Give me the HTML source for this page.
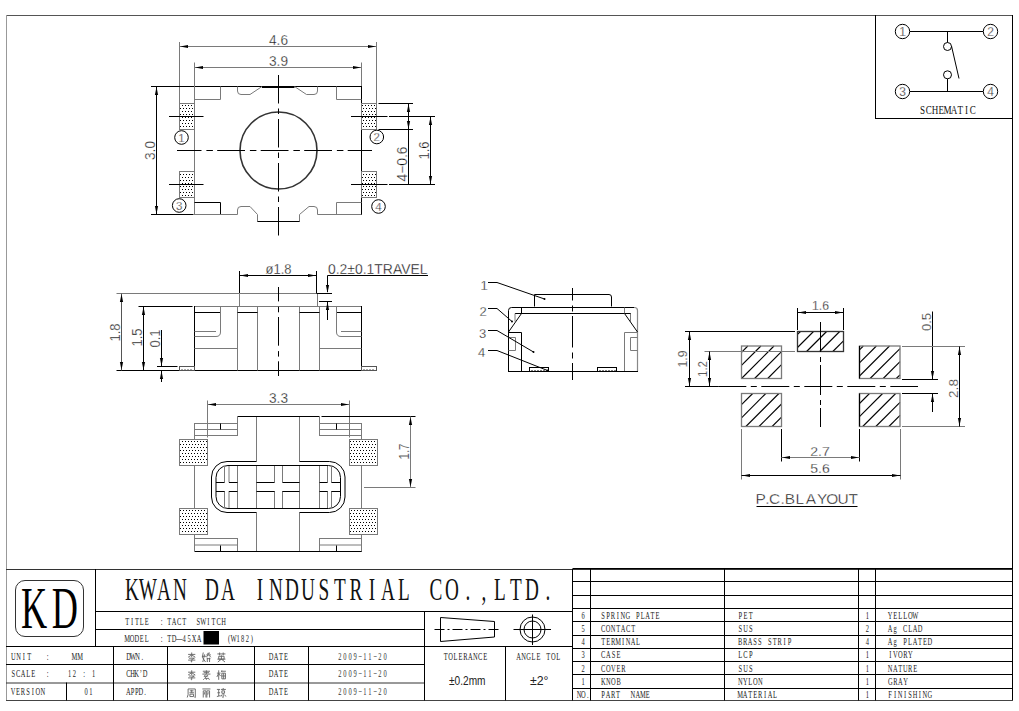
<!DOCTYPE html>
<html><head><meta charset="utf-8"><style>
html,body{margin:0;padding:0;background:#fff;overflow:hidden;}
svg{display:block;}

</style></head><body>
<svg width="1019" height="711" viewBox="0 0 1019 711">
<rect x="0" y="0" width="1019" height="711" fill="#fff"/>
<line x1="6" y1="15.5" x2="1012.5" y2="15.5" stroke="#555" stroke-width="1" />
<line x1="6.5" y1="15" x2="6.5" y2="700.5" stroke="#999" stroke-width="1" />
<line x1="1012.5" y1="15" x2="1012.5" y2="700.5" stroke="#000" stroke-width="1" />
<line x1="6" y1="700.5" x2="1013" y2="700.5" stroke="#444" stroke-width="1" />
<line x1="875.5" y1="15" x2="875.5" y2="118.5" stroke="#000" stroke-width="1" />
<line x1="875" y1="118.5" x2="1012.5" y2="118.5" stroke="#000" stroke-width="1" />
<circle cx="902.5" cy="31.5" r="7.2" stroke="#000" stroke-width="1" fill="none"/>
<text x="902.5" y="36.0" font-family="Liberation Sans" font-size="12" text-anchor="middle" fill="#111" stroke="#fff" stroke-width="0.3">1</text>
<circle cx="990.5" cy="31.5" r="7.2" stroke="#000" stroke-width="1" fill="none"/>
<text x="990.5" y="36.0" font-family="Liberation Sans" font-size="12" text-anchor="middle" fill="#111" stroke="#fff" stroke-width="0.3">2</text>
<circle cx="902.5" cy="91.5" r="7.2" stroke="#000" stroke-width="1" fill="none"/>
<text x="902.5" y="96.0" font-family="Liberation Sans" font-size="12" text-anchor="middle" fill="#111" stroke="#fff" stroke-width="0.3">3</text>
<circle cx="990.5" cy="91.5" r="7.2" stroke="#000" stroke-width="1" fill="none"/>
<text x="990.5" y="96.0" font-family="Liberation Sans" font-size="12" text-anchor="middle" fill="#111" stroke="#fff" stroke-width="0.3">4</text>
<line x1="910" y1="31.5" x2="983" y2="31.5" stroke="#000" stroke-width="1" />
<line x1="910" y1="91.5" x2="983" y2="91.5" stroke="#000" stroke-width="1" />
<line x1="947.5" y1="31.5" x2="947.5" y2="42.5" stroke="#000" stroke-width="1" />
<circle cx="947.5" cy="46.5" r="4" stroke="#000" stroke-width="1" fill="none"/>
<circle cx="947.5" cy="74.8" r="4" stroke="#000" stroke-width="1" fill="none"/>
<line x1="947.5" y1="78.8" x2="947.5" y2="91.5" stroke="#000" stroke-width="1" />
<line x1="951.5" y1="46" x2="959" y2="78.5" stroke="#000" stroke-width="1" />
<text transform="scale(0.72 1)" x="1281.31 1290.03 1298.75 1307.47 1316.19 1324.92 1333.64 1342.36 1351.08" y="114" font-family="Liberation Serif" font-size="12.6" text-anchor="middle" fill="#111">SCHEMATIC</text>
<line x1="179.5" y1="42" x2="179.5" y2="103" stroke="#7a7a7a" stroke-width="1" />
<line x1="376.5" y1="42" x2="376.5" y2="103" stroke="#7a7a7a" stroke-width="1" />
<line x1="194.5" y1="62.5" x2="194.5" y2="86" stroke="#7a7a7a" stroke-width="1" />
<line x1="361.5" y1="62.5" x2="361.5" y2="86" stroke="#7a7a7a" stroke-width="1" />
<line x1="179.5" y1="46.5" x2="376.5" y2="46.5" stroke="#7a7a7a" stroke-width="1" />
<polygon points="180,46.5 188,44.9 188,48.1" fill="#000" stroke="none"/>
<polygon points="376,46.5 368,44.9 368,48.1" fill="#000" stroke="none"/>
<line x1="194.5" y1="67.5" x2="361.5" y2="67.5" stroke="#7a7a7a" stroke-width="1" />
<polygon points="195,67.5 203,65.9 203,69.1" fill="#000" stroke="none"/>
<polygon points="361,67.5 353,65.9 353,69.1" fill="#000" stroke="none"/>
<text x="278.5" y="45" font-family="Liberation Sans" font-size="14" text-anchor="middle" fill="#111" textLength="19" lengthAdjust="spacingAndGlyphs" stroke="#fff" stroke-width="0.3">4.6</text>
<text x="278.5" y="65.5" font-family="Liberation Sans" font-size="14" text-anchor="middle" fill="#111" textLength="19" lengthAdjust="spacingAndGlyphs" stroke="#fff" stroke-width="0.3">3.9</text>
<line x1="151" y1="86.5" x2="361.5" y2="86.5" stroke="#000" stroke-width="1" />
<line x1="262" y1="87.5" x2="294.5" y2="87.5" stroke="#000" stroke-width="1" />
<line x1="194.5" y1="86" x2="194.5" y2="215" stroke="#7a7a7a" stroke-width="1" />
<line x1="361.5" y1="86" x2="361.5" y2="215" stroke="#000" stroke-width="1" />
<path d="M237.5,86.5 L237.5,91 Q237.5,94.5 241,94.5 L250,94.5 L262,86.5" stroke="#7a7a7a" stroke-width="1" fill="none" />
<path d="M294.5,86.5 L306.5,94.5 L314,94.5 Q317.5,94.5 317.5,91 L317.5,86.5" stroke="#7a7a7a" stroke-width="1" fill="none" />
<path d="M194.5,99.5 L220.5,99.5 L220.5,86.5" stroke="#7a7a7a" stroke-width="1" fill="none" />
<path d="M361.5,99.5 L336.5,99.5 L336.5,86.5" stroke="#7a7a7a" stroke-width="1" fill="none" />
<path d="M194.5,202.5 L220.5,202.5 L220.5,214.5" stroke="#000" stroke-width="1" fill="none" />
<path d="M361.5,202.5 L336.5,202.5 L336.5,214.5" stroke="#7a7a7a" stroke-width="1" fill="none" />
<path d="M151,214.5 L237.5,214.5 L237.5,210 Q237.5,206.5 241,206.5 L250,206.5 L257.5,214.5 L257.5,221.5 L299.5,221.5 L299.5,214.5 L309,206.5 L314,206.5 Q317.5,206.5 317.5,210 L317.5,214.5 L361.5,214.5" stroke="#7a7a7a" stroke-width="1" fill="none" />
<line x1="257.5" y1="221.5" x2="299.5" y2="221.5" stroke="#000" stroke-width="1" />
<defs><pattern id="dots" x="0" y="0" width="3" height="6" patternUnits="userSpaceOnUse"><rect x="2" y="3" width="1" height="1" fill="#000"/><rect x="0" y="0" width="1" height="1" fill="#000"/></pattern><pattern id="hatch" x="0" y="0" width="13.3" height="13.3" patternUnits="userSpaceOnUse"><path d="M-1,14.3 L14.3,-1 M-1,1 L1,-1 M12.3,14.3 L14.3,12.3" stroke="#000" stroke-width="1"/></pattern></defs>
<rect x="179.5" y="103.5" width="15" height="26" stroke="#7a7a7a" stroke-width="1" fill="url(#dots)" />
<rect x="179.5" y="171.5" width="15" height="26" stroke="#7a7a7a" stroke-width="1" fill="url(#dots)" />
<rect x="361.5" y="103.5" width="15" height="26" stroke="#7a7a7a" stroke-width="1" fill="url(#dots)" />
<rect x="361.5" y="171.5" width="15" height="26" stroke="#7a7a7a" stroke-width="1" fill="url(#dots)" />
<line x1="169" y1="116.5" x2="203.5" y2="116.5" stroke="#000" stroke-width="1" />
<line x1="169" y1="184.5" x2="203.5" y2="184.5" stroke="#000" stroke-width="1" />
<line x1="351" y1="116.5" x2="387.5" y2="116.5" stroke="#000" stroke-width="1" />
<line x1="389" y1="116.5" x2="435" y2="116.5" stroke="#000" stroke-width="1" />
<line x1="351" y1="184.5" x2="387.5" y2="184.5" stroke="#000" stroke-width="1" />
<line x1="389" y1="184.5" x2="435" y2="184.5" stroke="#000" stroke-width="1" />
<circle cx="181.5" cy="137.5" r="6.8" stroke="#000" stroke-width="1" fill="none"/>
<text x="181.5" y="141.8" font-family="Liberation Sans" font-size="11.5" text-anchor="middle" fill="#111" stroke="#fff" stroke-width="0.3">1</text>
<circle cx="376.8" cy="137" r="6.8" stroke="#000" stroke-width="1" fill="none"/>
<text x="376.8" y="141.3" font-family="Liberation Sans" font-size="11.5" text-anchor="middle" fill="#111" stroke="#fff" stroke-width="0.3">2</text>
<circle cx="179.2" cy="205.5" r="6.8" stroke="#000" stroke-width="1" fill="none"/>
<text x="179.2" y="209.8" font-family="Liberation Sans" font-size="11.5" text-anchor="middle" fill="#111" stroke="#fff" stroke-width="0.3">3</text>
<circle cx="378.5" cy="206.5" r="6.8" stroke="#000" stroke-width="1" fill="none"/>
<text x="378.5" y="210.8" font-family="Liberation Sans" font-size="11.5" text-anchor="middle" fill="#111" stroke="#fff" stroke-width="0.3">4</text>
<circle cx="278.5" cy="150.5" r="38.5" stroke="#333" stroke-width="1.6" fill="none"/>
<line x1="177" y1="150.5" x2="372" y2="150.5" stroke="#000" stroke-width="1" stroke-dasharray="27.8 4.9 6.5 4.3" stroke-dashoffset="3.3"/>
<line x1="278.5" y1="75" x2="278.5" y2="236" stroke="#000" stroke-width="1" stroke-dasharray="28.5 5 5.5 5"/>
<line x1="151" y1="214.5" x2="193" y2="214.5" stroke="#000" stroke-width="1" />
<line x1="156.5" y1="86.5" x2="156.5" y2="214.5" stroke="#000" stroke-width="1" />
<polygon points="156.5,87 154.9,95 158.1,95" fill="#000" stroke="none"/>
<polygon points="156.5,214 154.9,206 158.1,206" fill="#000" stroke="none"/>
<text x="154.5" y="150.5" font-family="Liberation Sans" font-size="14" text-anchor="middle" fill="#111" textLength="19" lengthAdjust="spacingAndGlyphs" transform="rotate(-90 154.5 150.5)" stroke="#fff" stroke-width="0.3">3.0</text>
<line x1="378.5" y1="103.5" x2="413" y2="103.5" stroke="#000" stroke-width="1" />
<line x1="378.5" y1="129.5" x2="413" y2="129.5" stroke="#000" stroke-width="1" />
<line x1="408.5" y1="103.5" x2="408.5" y2="184.5" stroke="#000" stroke-width="1" />
<polygon points="408.5,104 406.9,112 410.1,112" fill="#000" stroke="none"/>
<polygon points="408.5,129 406.9,121 410.1,121" fill="#000" stroke="none"/>
<text x="407" y="164" font-family="Liberation Sans" font-size="14" text-anchor="middle" fill="#111" textLength="35" lengthAdjust="spacingAndGlyphs" transform="rotate(-90 407 164)" stroke="#fff" stroke-width="0.3">4−0.6</text>
<line x1="430.5" y1="116.5" x2="430.5" y2="184.5" stroke="#000" stroke-width="1" />
<polygon points="430.5,117 428.9,125 432.1,125" fill="#000" stroke="none"/>
<polygon points="430.5,184 428.9,176 432.1,176" fill="#000" stroke="none"/>
<text x="429" y="150.5" font-family="Liberation Sans" font-size="14" text-anchor="middle" fill="#111" textLength="18" lengthAdjust="spacingAndGlyphs" transform="rotate(-90 429 150.5)" stroke="#fff" stroke-width="0.3">1.6</text>
<line x1="116.5" y1="293.5" x2="239.5" y2="293.5" stroke="#7a7a7a" stroke-width="1" />
<line x1="116.5" y1="370.5" x2="193" y2="370.5" stroke="#000" stroke-width="1" />
<line x1="121.5" y1="293.5" x2="121.5" y2="370.5" stroke="#555" stroke-width="1" />
<polygon points="121.5,294 119.9,302 123.1,302" fill="#000" stroke="none"/>
<polygon points="121.5,370 119.9,362 123.1,362" fill="#000" stroke="none"/>
<text x="119.5" y="332.5" font-family="Liberation Sans" font-size="14" text-anchor="middle" fill="#111" textLength="18" lengthAdjust="spacingAndGlyphs" transform="rotate(-90 119.5 332.5)" stroke="#fff" stroke-width="0.3">1.8</text>
<line x1="138.5" y1="306.5" x2="192.5" y2="306.5" stroke="#000" stroke-width="1" />
<line x1="143.5" y1="306.5" x2="143.5" y2="370.5" stroke="#000" stroke-width="1" />
<polygon points="143.5,307 141.9,315 145.1,315" fill="#000" stroke="none"/>
<polygon points="143.5,370 141.9,362 145.1,362" fill="#000" stroke="none"/>
<text x="142" y="337.5" font-family="Liberation Sans" font-size="14" text-anchor="middle" fill="#111" textLength="18" lengthAdjust="spacingAndGlyphs" transform="rotate(-90 142 337.5)" stroke="#fff" stroke-width="0.3">1.5</text>
<line x1="161.5" y1="330" x2="161.5" y2="366" stroke="#000" stroke-width="1" />
<polygon points="161.5,366 159.9,358 163.1,358" fill="#000" stroke="none"/>
<line x1="157" y1="366.5" x2="177.5" y2="366.5" stroke="#000" stroke-width="1" />
<line x1="161.5" y1="371" x2="161.5" y2="382" stroke="#000" stroke-width="1" />
<polygon points="161.5,371 159.9,379 163.1,379" fill="#000" stroke="none"/>
<text x="160" y="338.5" font-family="Liberation Sans" font-size="14" text-anchor="middle" fill="#111" textLength="18" lengthAdjust="spacingAndGlyphs" transform="rotate(-90 160 338.5)" stroke="#fff" stroke-width="0.3">0.1</text>
<line x1="194.5" y1="306.5" x2="361.5" y2="306.5" stroke="#7a7a7a" stroke-width="1" />
<line x1="194.5" y1="306" x2="194.5" y2="371" stroke="#000" stroke-width="1" />
<line x1="361.5" y1="306" x2="361.5" y2="371" stroke="#000" stroke-width="1" />
<line x1="194.5" y1="370.5" x2="361.5" y2="370.5" stroke="#000" stroke-width="1" />
<rect x="179.5" y="366.5" width="15.0" height="4.0" stroke="#555" stroke-width="1" fill="none" />
<path d="M182.0,370.5 V369.0 M185.0,370.5 V369.0 M188.0,370.5 V369.0 M191.0,370.5 V369.0 " stroke="#555" stroke-width="1" fill="none" />
<rect x="361.5" y="366.5" width="15.0" height="4.0" stroke="#555" stroke-width="1" fill="none" />
<path d="M364.0,370.5 V369.0 M367.0,370.5 V369.0 M370.0,370.5 V369.0 M373.0,370.5 V369.0 " stroke="#555" stroke-width="1" fill="none" />
<line x1="239.5" y1="293.5" x2="317.5" y2="293.5" stroke="#7a7a7a" stroke-width="1" />
<line x1="239.5" y1="293.5" x2="239.5" y2="306.5" stroke="#7a7a7a" stroke-width="1" />
<line x1="317.5" y1="293.5" x2="317.5" y2="306.5" stroke="#7a7a7a" stroke-width="1" />
<line x1="239.5" y1="271" x2="239.5" y2="293" stroke="#000" stroke-width="1" />
<line x1="316.5" y1="271" x2="316.5" y2="293" stroke="#000" stroke-width="1" />
<line x1="239.5" y1="275.5" x2="316.5" y2="275.5" stroke="#000" stroke-width="1" />
<polygon points="240,275.5 248,273.9 248,277.1" fill="#000" stroke="none"/>
<polygon points="316,275.5 308,273.9 308,277.1" fill="#000" stroke="none"/>
<text x="278.5" y="273.5" font-family="Liberation Sans" font-size="14" text-anchor="middle" fill="#111" textLength="26" lengthAdjust="spacingAndGlyphs" stroke="#fff" stroke-width="0.3">ø1.8</text>
<line x1="237.5" y1="306.5" x2="237.5" y2="370.5" stroke="#7a7a7a" stroke-width="1" />
<line x1="257.5" y1="306.5" x2="257.5" y2="370.5" stroke="#7a7a7a" stroke-width="1" />
<line x1="299.5" y1="306.5" x2="299.5" y2="370.5" stroke="#7a7a7a" stroke-width="1" />
<line x1="319.5" y1="306.5" x2="319.5" y2="370.5" stroke="#7a7a7a" stroke-width="1" />
<line x1="194.5" y1="312.5" x2="220.5" y2="312.5" stroke="#000" stroke-width="1" />
<path d="M220.5,306.5 L220.5,332 Q220.5,336.5 216,336.5 L194.5,336.5" stroke="#7a7a7a" stroke-width="1" fill="none" />
<line x1="194.5" y1="331.5" x2="216" y2="331.5" stroke="#7a7a7a" stroke-width="1" />
<line x1="194.5" y1="348.5" x2="237.5" y2="348.5" stroke="#7a7a7a" stroke-width="1" />
<line x1="237.5" y1="312.5" x2="257.5" y2="312.5" stroke="#000" stroke-width="1" />
<line x1="299.5" y1="312.5" x2="319.5" y2="312.5" stroke="#000" stroke-width="1" />
<line x1="336.5" y1="312.5" x2="361.5" y2="312.5" stroke="#000" stroke-width="1" />
<path d="M336.5,306.5 L336.5,332 Q336.5,336.5 341,336.5 L361.5,336.5" stroke="#7a7a7a" stroke-width="1" fill="none" />
<line x1="341" y1="331.5" x2="361.5" y2="331.5" stroke="#7a7a7a" stroke-width="1" />
<line x1="319.5" y1="348.5" x2="361.5" y2="348.5" stroke="#7a7a7a" stroke-width="1" />
<line x1="278.5" y1="287" x2="278.5" y2="376" stroke="#000" stroke-width="1" stroke-dasharray="28.7 5.4 5.5 4.7" stroke-dashoffset="14.3"/>
<line x1="327.5" y1="275.5" x2="428" y2="275.5" stroke="#000" stroke-width="1" />
<line x1="327.5" y1="275.5" x2="327.5" y2="292" stroke="#000" stroke-width="1" />
<polygon points="327.5,293 325.9,285 329.1,285" fill="#000" stroke="none"/>
<line x1="316.5" y1="293.5" x2="332" y2="293.5" stroke="#000" stroke-width="1" />
<line x1="319" y1="301.5" x2="332" y2="301.5" stroke="#000" stroke-width="1" />
<line x1="327.5" y1="302" x2="327.5" y2="320" stroke="#000" stroke-width="1" />
<polygon points="327.5,302 325.9,310 329.1,310" fill="#000" stroke="none"/>
<text x="328" y="273.5" font-family="Liberation Sans" font-size="14" text-anchor="start" fill="#111" textLength="99.5" lengthAdjust="spacingAndGlyphs" stroke="#fff" stroke-width="0.3">0.2±0.1TRAVEL</text>
<line x1="207.5" y1="400.5" x2="207.5" y2="437.5" stroke="#7a7a7a" stroke-width="1" />
<line x1="349.5" y1="400.5" x2="349.5" y2="437.5" stroke="#7a7a7a" stroke-width="1" />
<line x1="207.5" y1="404.5" x2="349.5" y2="404.5" stroke="#7a7a7a" stroke-width="1" />
<polygon points="208,404.5 216,402.9 216,406.1" fill="#000" stroke="none"/>
<polygon points="349,404.5 341,402.9 341,406.1" fill="#000" stroke="none"/>
<text x="278.5" y="403" font-family="Liberation Sans" font-size="14" text-anchor="middle" fill="#111" textLength="19" lengthAdjust="spacingAndGlyphs" stroke="#fff" stroke-width="0.3">3.3</text>
<line x1="237.5" y1="416.5" x2="319.5" y2="416.5" stroke="#000" stroke-width="1" />
<line x1="321.5" y1="416.5" x2="415.5" y2="416.5" stroke="#000" stroke-width="1" />
<line x1="237.5" y1="416.5" x2="237.5" y2="436" stroke="#7a7a7a" stroke-width="1" />
<line x1="319.5" y1="416.5" x2="319.5" y2="436" stroke="#7a7a7a" stroke-width="1" />
<path d="M195,423.5 L237.5,423.5 M195,429.5 L237.5,429.5 M195,435.5 L237.5,435.5 M220.5,423 L220.5,429.5" stroke="#7a7a7a" stroke-width="1" fill="none" />
<line x1="220.5" y1="423.5" x2="220.5" y2="429.5" stroke="#000" stroke-width="1" />
<path d="M319.5,423.5 L361.5,423.5 M319.5,429.5 L361.5,429.5 M319.5,435.5 L361.5,435.5" stroke="#7a7a7a" stroke-width="1" fill="none" />
<line x1="336.5" y1="423.5" x2="336.5" y2="429.5" stroke="#000" stroke-width="1" />
<path d="M195,538.5 L237.5,538.5 M195,545 L237.5,545 M237.5,538 L237.5,551" stroke="#7a7a7a" stroke-width="1" fill="none" />
<line x1="220.5" y1="545.5" x2="220.5" y2="551" stroke="#000" stroke-width="1" />
<path d="M319.5,538.5 L361.5,538.5 M319.5,545 L361.5,545 M319.5,538 L319.5,551" stroke="#7a7a7a" stroke-width="1" fill="none" />
<line x1="336.5" y1="545.5" x2="336.5" y2="551" stroke="#000" stroke-width="1" />
<line x1="194.5" y1="551.5" x2="362" y2="551.5" stroke="#000" stroke-width="1" />
<line x1="194.5" y1="423" x2="194.5" y2="440" stroke="#7a7a7a" stroke-width="1" />
<line x1="194.5" y1="465" x2="194.5" y2="508" stroke="#7a7a7a" stroke-width="1" />
<line x1="194.5" y1="534" x2="194.5" y2="551.5" stroke="#7a7a7a" stroke-width="1" />
<line x1="361.5" y1="423" x2="361.5" y2="440" stroke="#7a7a7a" stroke-width="1" />
<line x1="361.5" y1="465" x2="361.5" y2="508" stroke="#7a7a7a" stroke-width="1" />
<line x1="361.5" y1="534" x2="361.5" y2="551.5" stroke="#7a7a7a" stroke-width="1" />
<rect x="179.5" y="439.5" width="28" height="26" stroke="#7a7a7a" stroke-width="1" fill="url(#dots)" />
<rect x="179.5" y="508.5" width="28" height="26" stroke="#7a7a7a" stroke-width="1" fill="url(#dots)" />
<rect x="349.5" y="439.5" width="28" height="26" stroke="#7a7a7a" stroke-width="1" fill="url(#dots)" />
<rect x="349.5" y="508.5" width="28" height="26" stroke="#7a7a7a" stroke-width="1" fill="url(#dots)" />
<line x1="256.5" y1="417" x2="256.5" y2="461.5" stroke="#7a7a7a" stroke-width="1" />
<line x1="299.5" y1="417" x2="299.5" y2="461.5" stroke="#7a7a7a" stroke-width="1" />
<line x1="256.5" y1="512.5" x2="256.5" y2="551" stroke="#7a7a7a" stroke-width="1" />
<line x1="299.5" y1="512.5" x2="299.5" y2="551" stroke="#7a7a7a" stroke-width="1" />
<path d="M256.5,461.5 L227,461.5 A15.5,15.5 0 0 0 211.5,477 L211.5,497 A15.5,15.5 0 0 0 227,512.5 L256.5,512.5" stroke="#000" stroke-width="1" fill="none" />
<path d="M299.5,461.5 L329.5,461.5 A15.5,15.5 0 0 1 345,477 L345,497 A15.5,15.5 0 0 1 329.5,512.5 L299.5,512.5" stroke="#000" stroke-width="1" fill="none" />
<rect x="216" y="465.5" width="124.5" height="43" stroke="#000" stroke-width="1" fill="none" rx="12" ry="12"/>
<line x1="237.5" y1="466" x2="237.5" y2="508" stroke="#7a7a7a" stroke-width="1" />
<line x1="256.5" y1="466" x2="256.5" y2="508" stroke="#7a7a7a" stroke-width="1" />
<line x1="299.5" y1="466" x2="299.5" y2="508" stroke="#7a7a7a" stroke-width="1" />
<line x1="319.5" y1="466" x2="319.5" y2="508" stroke="#7a7a7a" stroke-width="1" />
<line x1="224.5" y1="466" x2="224.5" y2="482.5" stroke="#7a7a7a" stroke-width="1" />
<line x1="224.5" y1="491" x2="224.5" y2="508" stroke="#7a7a7a" stroke-width="1" />
<line x1="229" y1="466" x2="229" y2="482.5" stroke="#7a7a7a" stroke-width="1" />
<line x1="229" y1="491" x2="229" y2="508" stroke="#7a7a7a" stroke-width="1" />
<line x1="274.5" y1="466" x2="274.5" y2="482.5" stroke="#7a7a7a" stroke-width="1" />
<line x1="274.5" y1="491" x2="274.5" y2="508" stroke="#7a7a7a" stroke-width="1" />
<line x1="282.5" y1="466" x2="282.5" y2="482.5" stroke="#7a7a7a" stroke-width="1" />
<line x1="282.5" y1="491" x2="282.5" y2="508" stroke="#7a7a7a" stroke-width="1" />
<line x1="327.5" y1="466" x2="327.5" y2="482.5" stroke="#7a7a7a" stroke-width="1" />
<line x1="327.5" y1="491" x2="327.5" y2="508" stroke="#7a7a7a" stroke-width="1" />
<line x1="331.5" y1="466" x2="331.5" y2="482.5" stroke="#7a7a7a" stroke-width="1" />
<line x1="331.5" y1="491" x2="331.5" y2="508" stroke="#7a7a7a" stroke-width="1" />
<line x1="216" y1="482.5" x2="224.5" y2="482.5" stroke="#000" stroke-width="1" />
<line x1="216" y1="491.5" x2="224.5" y2="491.5" stroke="#000" stroke-width="1" />
<line x1="229" y1="482.5" x2="237.5" y2="482.5" stroke="#000" stroke-width="1" />
<line x1="229" y1="491.5" x2="237.5" y2="491.5" stroke="#000" stroke-width="1" />
<line x1="256.5" y1="482.5" x2="274.5" y2="482.5" stroke="#000" stroke-width="1" />
<line x1="256.5" y1="491.5" x2="274.5" y2="491.5" stroke="#000" stroke-width="1" />
<line x1="282.5" y1="482.5" x2="299.5" y2="482.5" stroke="#000" stroke-width="1" />
<line x1="282.5" y1="491.5" x2="299.5" y2="491.5" stroke="#000" stroke-width="1" />
<line x1="319.5" y1="482.5" x2="327.5" y2="482.5" stroke="#000" stroke-width="1" />
<line x1="319.5" y1="491.5" x2="327.5" y2="491.5" stroke="#000" stroke-width="1" />
<line x1="331.5" y1="482.5" x2="340.5" y2="482.5" stroke="#000" stroke-width="1" />
<line x1="331.5" y1="491.5" x2="340.5" y2="491.5" stroke="#000" stroke-width="1" />
<line x1="364" y1="487.5" x2="415.5" y2="487.5" stroke="#7a7a7a" stroke-width="1" />
<line x1="410.5" y1="416.5" x2="410.5" y2="487.5" stroke="#7a7a7a" stroke-width="1" />
<polygon points="410.5,417 408.9,425 412.1,425" fill="#000" stroke="none"/>
<polygon points="410.5,487 408.9,479 412.1,479" fill="#000" stroke="none"/>
<text x="409" y="451.5" font-family="Liberation Sans" font-size="14" text-anchor="middle" fill="#111" textLength="16" lengthAdjust="spacingAndGlyphs" transform="rotate(-90 409 451.5)" stroke="#fff" stroke-width="0.3">1.7</text>
<path d="M534.5,306.5 L534.5,294.5 L609,294.5 Q611.5,294.5 611.5,297 L611.5,306.5" stroke="#000" stroke-width="1" fill="none" />
<path d="M508.5,371.5 L508.5,310.5 Q508.5,307.5 511.5,307.5 L634.5,307.5" stroke="#000" stroke-width="1" fill="none" />
<path d="M634.5,307.5 Q637.5,307.5 637.5,310.5 L637.5,371.5" stroke="#888" stroke-width="1.2" fill="none" />
<line x1="515" y1="313.5" x2="631" y2="313.5" stroke="#000" stroke-width="1" />
<line x1="521.5" y1="307.5" x2="521.5" y2="313.5" stroke="#000" stroke-width="1" />
<line x1="624.5" y1="307.5" x2="624.5" y2="313.5" stroke="#7a7a7a" stroke-width="1" />
<line x1="515" y1="313.5" x2="515" y2="321.5" stroke="#7a7a7a" stroke-width="1" />
<line x1="630.5" y1="313.5" x2="630.5" y2="321.5" stroke="#7a7a7a" stroke-width="1" />
<line x1="521.5" y1="313.5" x2="508.5" y2="332" stroke="#000" stroke-width="1" />
<line x1="624.5" y1="313.5" x2="637.5" y2="332" stroke="#000" stroke-width="1" />
<path d="M508.5,332.5 L521.5,332.5 L521.5,371.5" stroke="#000" stroke-width="1" fill="none" />
<path d="M637.5,332.5 L624.5,332.5 L624.5,371.5" stroke="#7a7a7a" stroke-width="1" fill="none" />
<path d="M508.5,337.5 L515.5,337.5 L515.5,350.5 L508.5,350.5" stroke="#7a7a7a" stroke-width="1" fill="none" />
<path d="M637.5,337.5 L630.5,337.5 L630.5,350.5 L637.5,350.5" stroke="#7a7a7a" stroke-width="1" fill="none" />
<line x1="508" y1="371.5" x2="638" y2="371.5" stroke="#000" stroke-width="1" />
<rect x="529.5" y="367.5" width="19.0" height="4.0" stroke="#000" stroke-width="1" fill="none" />
<path d="M532.0,371.5 V370.0 M535.0,371.5 V370.0 M538.0,371.5 V370.0 M541.0,371.5 V370.0 M544.0,371.5 V370.0 M547.0,371.5 V370.0 " stroke="#000" stroke-width="1" fill="none" />
<rect x="597.5" y="367.5" width="19.0" height="4.0" stroke="#000" stroke-width="1" fill="none" />
<path d="M600.0,371.5 V370.0 M603.0,371.5 V370.0 M606.0,371.5 V370.0 M609.0,371.5 V370.0 M612.0,371.5 V370.0 M615.0,371.5 V370.0 " stroke="#000" stroke-width="1" fill="none" />
<line x1="572.5" y1="288" x2="572.5" y2="380" stroke="#000" stroke-width="1" stroke-dasharray="31.5 5 6 4.5" stroke-dashoffset="19"/>
<text x="484" y="290" font-family="Liberation Sans" font-size="13" text-anchor="middle" fill="#111" stroke="#fff" stroke-width="0.3">1</text>
<path d="M488,282.5 L497,282.5 L544.5,299" stroke="#000" stroke-width="1" fill="none" />
<circle cx="544.5" cy="299" r="1" stroke="#000" stroke-width="0" fill="#000"/>
<text x="483" y="315.5" font-family="Liberation Sans" font-size="13" text-anchor="middle" fill="#111" stroke="#fff" stroke-width="0.3">2</text>
<path d="M488,308.5 L497,308.5 L512,321.5" stroke="#000" stroke-width="1" fill="none" />
<circle cx="512" cy="321.5" r="1" stroke="#000" stroke-width="0" fill="#000"/>
<text x="482.5" y="338" font-family="Liberation Sans" font-size="13" text-anchor="middle" fill="#111" stroke="#fff" stroke-width="0.3">3</text>
<path d="M488,330.5 L497,330.5 L533.5,352" stroke="#000" stroke-width="1" fill="none" />
<circle cx="533.5" cy="352" r="1" stroke="#000" stroke-width="0" fill="#000"/>
<text x="481.5" y="357" font-family="Liberation Sans" font-size="13" text-anchor="middle" fill="#111" stroke="#fff" stroke-width="0.3">4</text>
<path d="M488,350.5 L497,350.5 L547.5,370.5" stroke="#000" stroke-width="1" fill="none" />
<circle cx="547.5" cy="370.5" r="1" stroke="#000" stroke-width="0" fill="#000"/>
<line x1="741.5" y1="352.3" x2="747.8" y2="346.0" stroke="#000" stroke-width="1.1" />
<line x1="741.5" y1="365.4" x2="760.9" y2="346.0" stroke="#000" stroke-width="1.1" />
<line x1="741.5" y1="378.5" x2="774.0" y2="346.0" stroke="#000" stroke-width="1.1" />
<line x1="754.6" y1="378.5" x2="781.5" y2="351.6" stroke="#000" stroke-width="1.1" />
<line x1="767.7" y1="378.5" x2="781.5" y2="364.7" stroke="#000" stroke-width="1.1" />
<rect x="741.5" y="346" width="40.0" height="32.5" stroke="#7a7a7a" stroke-width="1.3" fill="none" />
<line x1="859.5" y1="349.8" x2="863.3" y2="346.0" stroke="#000" stroke-width="1.1" />
<line x1="859.5" y1="362.9" x2="876.4" y2="346.0" stroke="#000" stroke-width="1.1" />
<line x1="859.5" y1="376.0" x2="889.5" y2="346.0" stroke="#000" stroke-width="1.1" />
<line x1="870.1" y1="378.5" x2="900" y2="348.6" stroke="#000" stroke-width="1.1" />
<line x1="883.2" y1="378.5" x2="900" y2="361.7" stroke="#000" stroke-width="1.1" />
<line x1="896.3" y1="378.5" x2="900" y2="374.8" stroke="#000" stroke-width="1.1" />
<rect x="859.5" y="346" width="40.5" height="32.5" stroke="#7a7a7a" stroke-width="1.3" fill="none" />
<line x1="741.5" y1="404.7" x2="752.7" y2="393.5" stroke="#000" stroke-width="1.1" />
<line x1="741.5" y1="417.8" x2="765.8" y2="393.5" stroke="#000" stroke-width="1.1" />
<line x1="745.9" y1="426.5" x2="778.9" y2="393.5" stroke="#000" stroke-width="1.1" />
<line x1="759.0" y1="426.5" x2="781.5" y2="404.0" stroke="#000" stroke-width="1.1" />
<line x1="772.1" y1="426.5" x2="781.5" y2="417.1" stroke="#000" stroke-width="1.1" />
<rect x="741.5" y="393.5" width="40.0" height="33.0" stroke="#7a7a7a" stroke-width="1.3" fill="none" />
<line x1="859.5" y1="403.5" x2="869.5" y2="393.5" stroke="#000" stroke-width="1.1" />
<line x1="859.5" y1="416.6" x2="882.6" y2="393.5" stroke="#000" stroke-width="1.1" />
<line x1="862.7" y1="426.5" x2="895.7" y2="393.5" stroke="#000" stroke-width="1.1" />
<line x1="875.8" y1="426.5" x2="900" y2="402.3" stroke="#000" stroke-width="1.1" />
<line x1="888.9" y1="426.5" x2="900" y2="415.4" stroke="#000" stroke-width="1.1" />
<rect x="859.5" y="393.5" width="40.5" height="33.0" stroke="#7a7a7a" stroke-width="1.3" fill="none" />
<line x1="859.5" y1="346" x2="859.5" y2="378.5" stroke="#000" stroke-width="1.2" />
<line x1="859.5" y1="393.5" x2="859.5" y2="426.5" stroke="#000" stroke-width="1.2" />
<line x1="797.5" y1="334.4" x2="800.4" y2="331.5" stroke="#000" stroke-width="1.1" />
<line x1="797.5" y1="347.5" x2="813.5" y2="331.5" stroke="#000" stroke-width="1.1" />
<line x1="806.6" y1="351.5" x2="826.6" y2="331.5" stroke="#000" stroke-width="1.1" />
<line x1="819.7" y1="351.5" x2="839.7" y2="331.5" stroke="#000" stroke-width="1.1" />
<line x1="832.8" y1="351.5" x2="843.5" y2="340.8" stroke="#000" stroke-width="1.1" />
<rect x="797.5" y="331.5" width="46.0" height="20.0" stroke="#333" stroke-width="1.3" fill="none" />
<line x1="685" y1="386.5" x2="918" y2="386.5" stroke="#000" stroke-width="1" stroke-dasharray="28 4.5 6 4.5" stroke-dashoffset="9.7"/>
<line x1="685" y1="386.5" x2="718.5" y2="386.5" stroke="#000" stroke-width="1" />
<line x1="820.5" y1="322" x2="820.5" y2="427" stroke="#000" stroke-width="1" stroke-dasharray="30 5 5 3"/>
<line x1="797.5" y1="308" x2="797.5" y2="330" stroke="#000" stroke-width="1" />
<line x1="843.5" y1="308" x2="843.5" y2="330" stroke="#000" stroke-width="1" />
<line x1="797.5" y1="312.5" x2="843.5" y2="312.5" stroke="#000" stroke-width="1" />
<polygon points="798,312.5 806,310.9 806,314.1" fill="#000" stroke="none"/>
<polygon points="843,312.5 835,310.9 835,314.1" fill="#000" stroke="none"/>
<text x="820.5" y="310" font-family="Liberation Sans" font-size="13" text-anchor="middle" fill="#111" textLength="17" lengthAdjust="spacingAndGlyphs" stroke="#fff" stroke-width="0.3">1.6</text>
<line x1="685" y1="331.5" x2="795" y2="331.5" stroke="#000" stroke-width="1" />
<line x1="689.5" y1="331.5" x2="689.5" y2="386.5" stroke="#000" stroke-width="1" />
<polygon points="689.5,332 687.9,340 691.1,340" fill="#000" stroke="none"/>
<polygon points="689.5,386 687.9,378 691.1,378" fill="#000" stroke="none"/>
<text x="687" y="359" font-family="Liberation Sans" font-size="13" text-anchor="middle" fill="#111" textLength="17" lengthAdjust="spacingAndGlyphs" transform="rotate(-90 687 359)" stroke="#fff" stroke-width="0.3">1.9</text>
<line x1="704.5" y1="351.5" x2="795" y2="351.5" stroke="#7a7a7a" stroke-width="1" />
<line x1="709.5" y1="351.5" x2="709.5" y2="386.5" stroke="#000" stroke-width="1" />
<polygon points="709.5,352 707.9,360 711.1,360" fill="#000" stroke="none"/>
<polygon points="709.5,386 707.9,378 711.1,378" fill="#000" stroke="none"/>
<text x="706.5" y="369" font-family="Liberation Sans" font-size="13" text-anchor="middle" fill="#111" textLength="16" lengthAdjust="spacingAndGlyphs" transform="rotate(-90 706.5 369)" stroke="#fff" stroke-width="0.3">1.2</text>
<line x1="902" y1="379.5" x2="938" y2="379.5" stroke="#000" stroke-width="1" />
<line x1="902" y1="393.5" x2="938" y2="393.5" stroke="#000" stroke-width="1" />
<line x1="932.5" y1="311.5" x2="932.5" y2="379" stroke="#000" stroke-width="1" />
<polygon points="932.5,379 930.9,371 934.1,371" fill="#000" stroke="none"/>
<line x1="932.5" y1="394" x2="932.5" y2="412" stroke="#000" stroke-width="1" />
<polygon points="932.5,394 930.9,402 934.1,402" fill="#000" stroke="none"/>
<text x="930.5" y="322" font-family="Liberation Sans" font-size="13" text-anchor="middle" fill="#111" textLength="18" lengthAdjust="spacingAndGlyphs" transform="rotate(-90 930.5 322)" stroke="#fff" stroke-width="0.3">0.5</text>
<line x1="902" y1="346.5" x2="965" y2="346.5" stroke="#7a7a7a" stroke-width="1" />
<line x1="902" y1="426.5" x2="965" y2="426.5" stroke="#7a7a7a" stroke-width="1" />
<line x1="959.5" y1="346.5" x2="959.5" y2="426.5" stroke="#000" stroke-width="1" />
<polygon points="959.5,347 957.9,355 961.1,355" fill="#000" stroke="none"/>
<polygon points="959.5,426 957.9,418 961.1,418" fill="#000" stroke="none"/>
<text x="957.5" y="388.5" font-family="Liberation Sans" font-size="13" text-anchor="middle" fill="#111" textLength="19" lengthAdjust="spacingAndGlyphs" transform="rotate(-90 957.5 388.5)" stroke="#fff" stroke-width="0.3">2.8</text>
<line x1="741.5" y1="429" x2="741.5" y2="479.5" stroke="#7a7a7a" stroke-width="1" />
<line x1="900.5" y1="429" x2="900.5" y2="479.5" stroke="#7a7a7a" stroke-width="1" />
<line x1="781.5" y1="429" x2="781.5" y2="461.5" stroke="#000" stroke-width="1" />
<line x1="859.5" y1="429" x2="859.5" y2="461.5" stroke="#000" stroke-width="1" />
<line x1="781.5" y1="457.5" x2="859.5" y2="457.5" stroke="#7a7a7a" stroke-width="1" />
<polygon points="782,457.5 790,455.9 790,459.1" fill="#000" stroke="none"/>
<polygon points="859,457.5 851,455.9 851,459.1" fill="#000" stroke="none"/>
<line x1="741.5" y1="475.5" x2="900.5" y2="475.5" stroke="#000" stroke-width="1" />
<polygon points="742,475.5 750,473.9 750,477.1" fill="#000" stroke="none"/>
<polygon points="900,475.5 892,473.9 892,477.1" fill="#000" stroke="none"/>
<text x="820" y="455.5" font-family="Liberation Sans" font-size="13" text-anchor="middle" fill="#111" textLength="19.5" lengthAdjust="spacingAndGlyphs" stroke="#fff" stroke-width="0.3">2.7</text>
<text x="820" y="473" font-family="Liberation Sans" font-size="13" text-anchor="middle" fill="#111" textLength="19.5" lengthAdjust="spacingAndGlyphs" stroke="#fff" stroke-width="0.3">5.6</text>
<text x="760.7 767.5 774.5 782.7 790 799.7 811 822.2 832.4 843.1 853.3" y="504.4" font-family="Liberation Sans" font-size="15.5" text-anchor="middle" fill="#111" stroke="#fff" stroke-width="0.4">P.C.BLAYOUT</text>
<line x1="756.5" y1="506.5" x2="857.5" y2="506.5" stroke="#000" stroke-width="1" />
<line x1="6" y1="569.5" x2="1012.5" y2="569.5" stroke="#333" stroke-width="1" />
<line x1="95.5" y1="569" x2="95.5" y2="647" stroke="#000" stroke-width="1" />
<rect x="15.5" y="580.5" width="68" height="56" stroke="#333" stroke-width="1" fill="none" rx="9.5" ry="9.5"/>
<text transform="scale(0.62 1)" x="55.16 104.52" y="628.3" font-family="Liberation Serif" font-size="58.5" text-anchor="middle" fill="#000">KD</text>
<text transform="scale(0.62 1)" x="212.74 238.55 264.35 290.16 315.97 341.77 367.58 393.39 419.19 445.00 470.81 496.61 522.42 548.23 574.03 599.84 625.65 651.45 677.26 703.06 728.87 754.68 780.48 806.29 832.10 857.90 883.71" y="600" font-family="Liberation Serif" font-size="31" text-anchor="middle" fill="#111">KWAN&#160;DA&#160;INDUSTRIAL&#160;CO.,LTD.</text>
<line x1="95" y1="611.5" x2="572.5" y2="611.5" stroke="#000" stroke-width="1" />
<line x1="95" y1="629.5" x2="424.5" y2="629.5" stroke="#000" stroke-width="1" />
<line x1="6" y1="646.5" x2="572.5" y2="646.5" stroke="#000" stroke-width="1" />
<line x1="6" y1="664.5" x2="424.5" y2="664.5" stroke="#000" stroke-width="1" />
<line x1="6" y1="683" x2="424.5" y2="683" stroke="#333" stroke-width="1" />
<line x1="113.5" y1="646.5" x2="113.5" y2="700.5" stroke="#000" stroke-width="1" />
<line x1="167.5" y1="646.5" x2="167.5" y2="700.5" stroke="#000" stroke-width="1" />
<line x1="254.5" y1="646.5" x2="254.5" y2="700.5" stroke="#000" stroke-width="1" />
<line x1="308.5" y1="646.5" x2="308.5" y2="700.5" stroke="#000" stroke-width="1" />
<line x1="66.5" y1="682.5" x2="66.5" y2="700.5" stroke="#000" stroke-width="1" />
<line x1="424.5" y1="611.5" x2="424.5" y2="700.5" stroke="#000" stroke-width="1" />
<line x1="505.5" y1="646.5" x2="505.5" y2="700.5" stroke="#000" stroke-width="1" />
<line x1="572.5" y1="569" x2="572.5" y2="700.5" stroke="#000" stroke-width="1" />
<text transform="scale(0.6 1)" x="211.91 220.07 228.23 236.39 244.55" y="625" font-family="Liberation Serif" font-size="10.8" text-anchor="middle" fill="#222">TITLE</text>
<text transform="scale(0.6 1)" x="269.40" y="625" font-family="Liberation Serif" font-size="10.8" text-anchor="middle" fill="#222">:</text>
<text transform="scale(0.6 1)" x="282.00 290.33 298.67 307.00" y="625" font-family="Liberation Serif" font-size="10.8" text-anchor="middle" fill="#222">TACT</text>
<text transform="scale(0.6 1)" x="330.41 338.88 347.36 355.84 364.31 372.79" y="625" font-family="Liberation Serif" font-size="10.8" text-anchor="middle" fill="#222">SWITCH</text>
<text transform="scale(0.6 1)" x="211.91 220.07 228.23 236.39 244.55" y="642.5" font-family="Liberation Serif" font-size="10.8" text-anchor="middle" fill="#222">MODEL</text>
<text transform="scale(0.6 1)" x="269.40" y="642.5" font-family="Liberation Serif" font-size="10.8" text-anchor="middle" fill="#222">:</text>
<text transform="scale(0.6 1)" x="282.00 290.33 298.67 307.00 315.33 323.67 332.00" y="642.5" font-family="Liberation Serif" font-size="10.8" text-anchor="middle" fill="#222">TD—45XA</text>
<rect x="203.5" y="631" width="15.5" height="13.5" stroke="none" stroke-width="0" fill="#000" />
<text transform="scale(0.6 1)" x="381.64 389.26 396.87 404.49 412.10 419.72" y="642.5" font-family="Liberation Serif" font-size="10.8" text-anchor="middle" fill="#222">(W182)</text>
<text transform="scale(0.6 1)" x="22.22 30.99 39.76 48.54" y="659.8" font-family="Liberation Serif" font-size="10.8" text-anchor="middle" fill="#222">UNIT</text>
<text transform="scale(0.6 1)" x="79.40" y="659.8" font-family="Liberation Serif" font-size="10.8" text-anchor="middle" fill="#222">:</text>
<text transform="scale(0.6 1)" x="124.13 133.39" y="659.8" font-family="Liberation Serif" font-size="10.8" text-anchor="middle" fill="#222">MM</text>
<text transform="scale(0.6 1)" x="22.00 30.33 38.67 47.00 55.33" y="677.3" font-family="Liberation Serif" font-size="10.8" text-anchor="middle" fill="#222">SCALE</text>
<text transform="scale(0.6 1)" x="79.40" y="677.3" font-family="Liberation Serif" font-size="10.8" text-anchor="middle" fill="#222">:</text>
<text transform="scale(0.6 1)" x="116.02 124.07 132.11 140.16 148.21 156.25" y="677.3" font-family="Liberation Serif" font-size="10.8" text-anchor="middle" fill="#222">12&#160;:&#160;1</text>
<text transform="scale(0.6 1)" x="21.94 30.15 38.36 46.57 54.78 62.99 71.20" y="694.8" font-family="Liberation Serif" font-size="10.8" text-anchor="middle" fill="#222">VERSION</text>
<text transform="scale(0.6 1)" x="143.44 151.31" y="694.8" font-family="Liberation Serif" font-size="10.8" text-anchor="middle" fill="#222">01</text>
<text transform="scale(0.6 1)" x="214.17 221.85 229.52 237.20" y="659.8" font-family="Liberation Serif" font-size="10.8" text-anchor="middle" fill="#222">DWN.</text>
<text transform="scale(0.6 1)" x="213.83 220.83 227.83 234.83 241.83" y="677.3" font-family="Liberation Serif" font-size="10.8" text-anchor="middle" fill="#222">CHK’D</text>
<text transform="scale(0.6 1)" x="213.83 220.83 227.83 234.83 241.83" y="694.8" font-family="Liberation Serif" font-size="10.8" text-anchor="middle" fill="#222">APPD.</text>
<text transform="scale(0.6 1)" x="451.67 460.00 468.33 476.67" y="659.8" font-family="Liberation Serif" font-size="10.8" text-anchor="middle" fill="#222">DATE</text>
<text transform="scale(0.6 1)" x="566.67 575.00 583.33 591.67 600.00 608.33 616.67 625.00 633.33 641.67" y="659.8" font-family="Liberation Serif" font-size="10.8" text-anchor="middle" fill="#333">2009−11−20</text>
<text transform="scale(0.6 1)" x="451.67 460.00 468.33 476.67" y="677.3" font-family="Liberation Serif" font-size="10.8" text-anchor="middle" fill="#222">DATE</text>
<text transform="scale(0.6 1)" x="566.67 575.00 583.33 591.67 600.00 608.33 616.67 625.00 633.33 641.67" y="677.3" font-family="Liberation Serif" font-size="10.8" text-anchor="middle" fill="#333">2009−11−20</text>
<text transform="scale(0.6 1)" x="451.67 460.00 468.33 476.67" y="694.8" font-family="Liberation Serif" font-size="10.8" text-anchor="middle" fill="#222">DATE</text>
<text transform="scale(0.6 1)" x="566.67 575.00 583.33 591.67 600.00 608.33 616.67 625.00 633.33 641.67" y="694.8" font-family="Liberation Serif" font-size="10.8" text-anchor="middle" fill="#333">2009−11−20</text>
<path transform="translate(187.2 652.5) scale(0.9 0.95)" d="M1,2 H9 M5,0 V5 M5,2.5 L1,5 M5,2.5 L9,5 M2,6 H8 L5,7.5 M5,7.5 V10 L4,9.6 M1,8 H9" stroke="#666" stroke-width="1" fill="none"/>
<path transform="translate(201.9 652.5) scale(0.9 0.95)" d="M1.5,0 L0.5,5 L4,10 M3,2 L1,10 M0,4 H4.5 M6,1 L9,0.5 M5,2.5 H10 M7.5,1 L5,5 M7.5,2.5 L10,5 M6,5.5 V10 M8.5,5.5 V10 M5.5,6.5 H9.5" stroke="#666" stroke-width="1" fill="none"/>
<path transform="translate(216.9 652.5) scale(0.9 0.95)" d="M0.5,1.5 H9.5 M3,0 V3 M7,0 V3 M2,4 V7 H8 V4 H2 M5,3 V7 M0.5,7 H9.5 M5,7 L1,10 M5,7 L9,10" stroke="#666" stroke-width="1" fill="none"/>
<path transform="translate(187.2 670.3) scale(0.9 0.95)" d="M1,2 H9 M5,0 V5 M5,2.5 L1,5 M5,2.5 L9,5 M2,6 H8 L5,7.5 M5,7.5 V10 L4,9.6 M1,8 H9" stroke="#666" stroke-width="1" fill="none"/>
<path transform="translate(201.9 670.3) scale(0.9 0.95)" d="M1,1 H9 M2,2.5 H8 M0.5,4 H9.5 M5,0 V4 M4,4.5 L2.5,6.5 L7,6 M6.5,5 L3,8.5 H8 M5,8.5 V10 M2.5,9 L1.5,10 M7.5,9 L8.5,10" stroke="#666" stroke-width="1" fill="none"/>
<path transform="translate(216.9 670.3) scale(0.9 0.95)" d="M0,3 H4 M2,0 V10 M2,3 L0,7 M2,3.5 L4,6 M5.5,0 L5,2 M5.5,1 H10 M5.5,3 H9.5 V9 M5.5,3 V9 M5,6 H10 M5.5,9 H9.5 M7.5,3 V9" stroke="#666" stroke-width="1" fill="none"/>
<path transform="translate(187.2 688) scale(0.9 0.95)" d="M1,1 V7 L0,10 M1,1 H9 V10 L8,9.5 M5,2 V5 M3,3 H7 M2.5,5 H7.5 M3,6.5 H7 V9 H3 Z" stroke="#666" stroke-width="1" fill="none"/>
<path transform="translate(201.9 688) scale(0.9 0.95)" d="M0.5,1 H9.5 M1.5,3 V10 M1.5,3 H4.5 V10 M5.5,3 V10 M5.5,3 H8.5 V10 M3,4.5 L2.5,7 M7,4.5 L6.5,7" stroke="#666" stroke-width="1" fill="none"/>
<path transform="translate(216.9 688) scale(0.9 0.95)" d="M0,1.5 H3.5 M0.5,5 H3.5 M0,9 L4,8 M2,1.5 V8.5 M7,0 V1.5 M4.5,1.5 H10 M5.5,3 H8.5 V5.5 H5.5 Z M7,5.5 V10 L6,9.5 M5.5,7 L4.5,9 M8.5,7 L10,9" stroke="#666" stroke-width="1" fill="none"/>
<path d="M440.5,617.5 L494.5,621.5 L494.5,637 L440.5,641.5 Z" stroke="#000" stroke-width="1" fill="none" />
<line x1="434.5" y1="629.5" x2="501" y2="629.5" stroke="#000" stroke-width="1" stroke-dasharray="10 3 2 3"/>
<circle cx="532.5" cy="629.5" r="12.5" stroke="#000" stroke-width="1" fill="none"/>
<circle cx="532.5" cy="629.5" r="8.5" stroke="#000" stroke-width="1" fill="none"/>
<line x1="513.5" y1="629.5" x2="551" y2="629.5" stroke="#000" stroke-width="1" />
<line x1="532.5" y1="614.5" x2="532.5" y2="645" stroke="#000" stroke-width="1" />
<text transform="scale(0.6 1)" x="742.79 751.02 759.26 767.50 775.74 783.98 792.22 800.46 808.70" y="660" font-family="Liberation Serif" font-size="10.8" text-anchor="middle" fill="#222">TOLERANCE</text>
<text transform="scale(0.6 1)" x="864.45 872.69 880.93 889.17 897.41 905.65 913.88 922.12 930.36" y="660" font-family="Liberation Serif" font-size="10.8" text-anchor="middle" fill="#222">ANGLE&#160;TOL</text>
<text x="449" y="684.5" font-family="Liberation Sans" font-size="12" text-anchor="start" fill="#222" textLength="36.5" lengthAdjust="spacingAndGlyphs" >±0.2mm</text>
<text x="530" y="684.5" font-family="Liberation Sans" font-size="12" text-anchor="start" fill="#222" textLength="18.5" lengthAdjust="spacingAndGlyphs" >±2°</text>
<line x1="572.5" y1="568.5" x2="1012.5" y2="568.5" stroke="#000" stroke-width="1" />
<line x1="572.5" y1="581.5" x2="1012.5" y2="581.5" stroke="#000" stroke-width="1" />
<line x1="572.5" y1="595.5" x2="1012.5" y2="595.5" stroke="#000" stroke-width="1" />
<line x1="572.5" y1="608.5" x2="1012.5" y2="608.5" stroke="#000" stroke-width="1" />
<line x1="572.5" y1="621.5" x2="1012.5" y2="621.5" stroke="#000" stroke-width="1" />
<line x1="572.5" y1="635.5" x2="1012.5" y2="635.5" stroke="#000" stroke-width="1" />
<line x1="572.5" y1="648.5" x2="1012.5" y2="648.5" stroke="#000" stroke-width="1" />
<line x1="572.5" y1="661.5" x2="1012.5" y2="661.5" stroke="#000" stroke-width="1" />
<line x1="572.5" y1="674.5" x2="1012.5" y2="674.5" stroke="#000" stroke-width="1" />
<line x1="572.5" y1="688.5" x2="1012.5" y2="688.5" stroke="#000" stroke-width="1" />
<line x1="590.5" y1="569" x2="590.5" y2="700.5" stroke="#000" stroke-width="1" />
<line x1="724.5" y1="569" x2="724.5" y2="700.5" stroke="#000" stroke-width="1" />
<line x1="858.5" y1="569" x2="858.5" y2="700.5" stroke="#000" stroke-width="1" />
<line x1="875.5" y1="569" x2="875.5" y2="700.5" stroke="#000" stroke-width="1" />
<text transform="scale(0.6 1)" x="971.67" y="618.6" font-family="Liberation Serif" font-size="10.8" text-anchor="middle" fill="#222">6</text>
<text transform="scale(0.6 1)" x="1005.28 1013.50 1021.72 1029.94 1038.16 1046.38 1054.60 1062.82 1071.04 1079.26 1087.48 1095.70" y="618.6" font-family="Liberation Serif" font-size="10.8" text-anchor="middle" fill="#222">SPRING&#160;PLATE</text>
<text transform="scale(0.6 1)" x="1233.83 1242.49 1251.15" y="618.6" font-family="Liberation Serif" font-size="10.8" text-anchor="middle" fill="#222">PET</text>
<text transform="scale(0.6 1)" x="1445.83" y="618.6" font-family="Liberation Serif" font-size="10.8" text-anchor="middle" fill="#222">1</text>
<text transform="scale(0.6 1)" x="1483.68 1492.04 1500.41 1508.77 1517.13 1525.49" y="618.6" font-family="Liberation Serif" font-size="10.8" text-anchor="middle" fill="#222">YELLOW</text>
<text transform="scale(0.6 1)" x="971.67" y="631.9" font-family="Liberation Serif" font-size="10.8" text-anchor="middle" fill="#222">5</text>
<text transform="scale(0.6 1)" x="1005.33 1013.65 1021.97 1030.29 1038.61 1046.93 1055.25" y="631.9" font-family="Liberation Serif" font-size="10.8" text-anchor="middle" fill="#222">CONTACT</text>
<text transform="scale(0.6 1)" x="1233.83 1242.49 1251.15" y="631.9" font-family="Liberation Serif" font-size="10.8" text-anchor="middle" fill="#222">SUS</text>
<text transform="scale(0.6 1)" x="1445.83" y="631.9" font-family="Liberation Serif" font-size="10.8" text-anchor="middle" fill="#222">2</text>
<text transform="scale(0.6 1)" x="1483.66 1491.98 1500.30 1508.62 1516.94 1525.27 1533.59" y="631.9" font-family="Liberation Serif" font-size="10.8" text-anchor="middle" fill="#222">Ag&#160;CLAD</text>
<text transform="scale(0.6 1)" x="971.67" y="645.15" font-family="Liberation Serif" font-size="10.8" text-anchor="middle" fill="#222">4</text>
<text transform="scale(0.6 1)" x="1005.31 1013.60 1021.89 1030.18 1038.47 1046.76 1055.06 1063.35" y="645.15" font-family="Liberation Serif" font-size="10.8" text-anchor="middle" fill="#222">TERMINAL</text>
<text transform="scale(0.6 1)" x="1233.62 1241.85 1250.08 1258.32 1266.55 1274.78 1283.01 1291.25 1299.48 1307.71 1315.95" y="645.15" font-family="Liberation Serif" font-size="10.8" text-anchor="middle" fill="#222">BRASS&#160;STRIP</text>
<text transform="scale(0.6 1)" x="1445.83" y="645.15" font-family="Liberation Serif" font-size="10.8" text-anchor="middle" fill="#222">4</text>
<text transform="scale(0.6 1)" x="1483.63 1491.90 1500.17 1508.43 1516.70 1524.97 1533.24 1541.50 1549.77" y="645.15" font-family="Liberation Serif" font-size="10.8" text-anchor="middle" fill="#222">Ag&#160;PLATED</text>
<text transform="scale(0.6 1)" x="971.67" y="658.4" font-family="Liberation Serif" font-size="10.8" text-anchor="middle" fill="#222">3</text>
<text transform="scale(0.6 1)" x="1005.42 1013.93 1022.44 1030.95" y="658.4" font-family="Liberation Serif" font-size="10.8" text-anchor="middle" fill="#222">CASE</text>
<text transform="scale(0.6 1)" x="1233.83 1242.49 1251.15" y="658.4" font-family="Liberation Serif" font-size="10.8" text-anchor="middle" fill="#222">LCP</text>
<text transform="scale(0.6 1)" x="1445.83" y="658.4" font-family="Liberation Serif" font-size="10.8" text-anchor="middle" fill="#222">1</text>
<text transform="scale(0.6 1)" x="1483.71 1492.13 1500.55 1508.97 1517.39" y="658.4" font-family="Liberation Serif" font-size="10.8" text-anchor="middle" fill="#222">IVORY</text>
<text transform="scale(0.6 1)" x="971.67" y="671.65" font-family="Liberation Serif" font-size="10.8" text-anchor="middle" fill="#222">2</text>
<text transform="scale(0.6 1)" x="1005.38 1013.80 1022.22 1030.64 1039.06" y="671.65" font-family="Liberation Serif" font-size="10.8" text-anchor="middle" fill="#222">COVER</text>
<text transform="scale(0.6 1)" x="1233.83 1242.49 1251.15" y="671.65" font-family="Liberation Serif" font-size="10.8" text-anchor="middle" fill="#222">SUS</text>
<text transform="scale(0.6 1)" x="1445.83" y="671.65" font-family="Liberation Serif" font-size="10.8" text-anchor="middle" fill="#222">1</text>
<text transform="scale(0.6 1)" x="1483.68 1492.04 1500.41 1508.77 1517.13 1525.49" y="671.65" font-family="Liberation Serif" font-size="10.8" text-anchor="middle" fill="#222">NATURE</text>
<text transform="scale(0.6 1)" x="971.67" y="684.9" font-family="Liberation Serif" font-size="10.8" text-anchor="middle" fill="#222">1</text>
<text transform="scale(0.6 1)" x="1005.42 1013.93 1022.44 1030.95" y="684.9" font-family="Liberation Serif" font-size="10.8" text-anchor="middle" fill="#222">KNOB</text>
<text transform="scale(0.6 1)" x="1233.71 1242.13 1250.55 1258.97 1267.39" y="684.9" font-family="Liberation Serif" font-size="10.8" text-anchor="middle" fill="#222">NYLON</text>
<text transform="scale(0.6 1)" x="1445.83" y="684.9" font-family="Liberation Serif" font-size="10.8" text-anchor="middle" fill="#222">1</text>
<text transform="scale(0.6 1)" x="1483.75 1492.26 1500.77 1509.28" y="684.9" font-family="Liberation Serif" font-size="10.8" text-anchor="middle" fill="#222">GRAY</text>
<text transform="scale(0.6 1)" x="965.24 972.38 979.52" y="697.65" font-family="Liberation Serif" font-size="10.8" text-anchor="middle" fill="#222">NO.</text>
<text transform="scale(0.6 1)" x="1005.29 1013.54 1021.79 1030.04 1038.28 1046.53 1054.78 1063.03 1071.28 1079.53" y="697.65" font-family="Liberation Serif" font-size="10.8" text-anchor="middle" fill="#222">PART&#160;&#160;NAME</text>
<text transform="scale(0.6 1)" x="1233.65 1241.94 1250.23 1258.52 1266.81 1275.10 1283.39 1291.68" y="697.65" font-family="Liberation Serif" font-size="10.8" text-anchor="middle" fill="#222">MATERIAL</text>
<text transform="scale(0.6 1)" x="1445.83" y="697.65" font-family="Liberation Serif" font-size="10.8" text-anchor="middle" fill="#222">1</text>
<text transform="scale(0.6 1)" x="1483.63 1491.90 1500.17 1508.43 1516.70 1524.97 1533.24 1541.50 1549.77" y="697.65" font-family="Liberation Serif" font-size="10.8" text-anchor="middle" fill="#222">FINISHING</text>
</svg></body></html>
